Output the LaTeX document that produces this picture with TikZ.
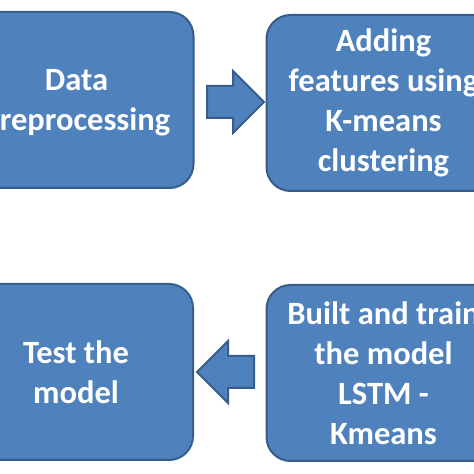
\documentclass[tikz,border=0pt]{standalone}
\usepackage{fontspec}
\setmainfont{Carlito}
\usepackage{tikz}
\usetikzlibrary{shapes.arrows}
\definecolor{boxfill}{HTML}{4F81BD}
\definecolor{boxline}{HTML}{385D8A}

\begin{document}
\begin{tikzpicture}[
    x=1pt, y=1pt,
    stage box/.style={draw=boxline, fill=boxfill, line width=2pt, rounded corners=24pt,
                      minimum width=234pt, minimum height=176pt, align=center,
                      text=white, font=\fontsize{32.5}{40}\selectfont\bfseries},
    flow arrow/.style={single arrow, draw=boxline, fill=boxfill, line width=2pt,
                       minimum height=57pt, minimum width=60pt, inner xsep=0pt, inner ysep=15pt,
                       single arrow head extend=15pt, single arrow tip angle=90},
]
    \useasboundingbox (0,0) rectangle (474,474);
    \fill[white] (0,0) rectangle (474,474);
    \clip (0,0) rectangle (474,474);

    % Top row
    \node[stage box, text depth=0pt] (prep) at (76.5, 374) {Data\\Preprocessing};
    \node[stage box] (feat) at (383.5, 371) {Adding\\features using\\K-means\\clustering};

    % Bottom row
    \node[stage box] (test) at (76, 102) {Test the\\model};
    \node[stage box] (train) at (383.5, 101) {Built and train\\the model\\LSTM -\\Kmeans};

    % Arrows
    \node[flow arrow, anchor=tail] (a1) at (206, 372) {};
    \node[flow arrow, shape border rotate=180, anchor=tail] (a2) at (255, 102) {};
\end{tikzpicture}
\end{document}
